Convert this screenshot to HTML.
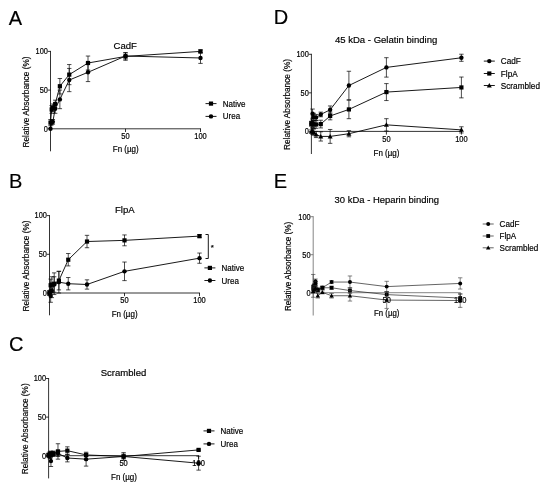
<!DOCTYPE html>
<html><head><meta charset="utf-8"><title>Figure</title>
<style>
html,body{margin:0;padding:0;background:#fff}
svg{display:block}
text{font-family:"Liberation Sans", sans-serif;fill:#000;stroke:#000;stroke-width:0.18}
.ln{stroke:#000;stroke-width:0.9;fill:none}
.eb{stroke:#000;stroke-width:0.7;fill:none}
.ln2{stroke:#222;stroke-width:0.7;fill:none}
.eb2{stroke:#333;stroke-width:0.6;fill:none}
</style></head><body>
<svg width="550" height="488" viewBox="0 0 550 488">
<rect width="550" height="488" fill="#fff"/>
<text transform="translate(8.80 24.70) scale(1 1.04)" font-size="20">A</text>
<path d="M50.50 50.90V151.30M50.50 128.80H201.00" stroke="#000" stroke-width="0.8" fill="none"/>
<path d="M47.90 128.80H50.50" stroke="#000" stroke-width="0.8"/>
<text transform="translate(47.90 131.65) scale(1 1.18)" font-size="7.4" text-anchor="end">0</text>
<path d="M47.90 90.10H50.50" stroke="#000" stroke-width="0.8"/>
<text transform="translate(47.90 92.95) scale(1 1.18)" font-size="7.4" text-anchor="end">50</text>
<path d="M47.90 51.40H50.50" stroke="#000" stroke-width="0.8"/>
<text transform="translate(47.90 54.25) scale(1 1.18)" font-size="7.4" text-anchor="end">100</text>
<path d="M125.50 128.80V132.00" stroke="#000" stroke-width="0.8"/>
<text transform="translate(125.50 139.45) scale(1 1.18)" font-size="7.5" text-anchor="middle">50</text>
<path d="M200.50 128.80V132.00" stroke="#000" stroke-width="0.8"/>
<text transform="translate(200.50 139.45) scale(1 1.18)" font-size="7.5" text-anchor="middle">100</text>
<path d="M50.50 119.51V125.70M48.30 119.51h4.4M48.30 125.70h4.4" class="eb"/>
<path d="M51.67 105.58V113.32M49.47 105.58h4.4M49.47 113.32h4.4" class="eb"/>
<path d="M52.84 104.03V111.77M50.64 104.03h4.4M50.64 111.77h4.4" class="eb"/>
<path d="M55.19 100.16V107.90M52.99 100.16h4.4M52.99 107.90h4.4" class="eb"/>
<path d="M59.88 78.49V93.97M57.67 78.49h4.4M57.67 93.97h4.4" class="eb"/>
<path d="M69.25 64.56V84.68M67.05 64.56h4.4M67.05 84.68h4.4" class="eb"/>
<path d="M88.00 56.04V69.98M85.80 56.04h4.4M85.80 69.98h4.4" class="eb"/>
<path d="M125.50 52.56V60.30M123.30 52.56h4.4M123.30 60.30h4.4" class="eb"/>
<path d="M200.50 49.85V52.95M198.30 49.85h4.4M198.30 52.95h4.4" class="eb"/>
<path d="M50.50 122.61L51.67 109.45L52.84 107.90L55.19 104.03L59.88 86.23L69.25 74.62L88.00 63.01L125.50 56.43L200.50 51.40" class="ln"/>
<rect x="48.40" y="120.51" width="4.2" height="4.2"/>
<rect x="49.57" y="107.35" width="4.2" height="4.2"/>
<rect x="50.74" y="105.80" width="4.2" height="4.2"/>
<rect x="53.09" y="101.93" width="4.2" height="4.2"/>
<rect x="57.77" y="84.13" width="4.2" height="4.2"/>
<rect x="67.15" y="72.52" width="4.2" height="4.2"/>
<rect x="85.90" y="60.91" width="4.2" height="4.2"/>
<rect x="123.40" y="54.33" width="4.2" height="4.2"/>
<rect x="198.40" y="49.30" width="4.2" height="4.2"/>
<path d="M51.67 120.29V124.93M49.47 120.29h4.4M49.47 124.93h4.4" class="eb"/>
<path d="M52.84 119.51V124.16M50.64 119.51h4.4M50.64 124.16h4.4" class="eb"/>
<path d="M55.19 104.03V113.32M52.99 104.03h4.4M52.99 113.32h4.4" class="eb"/>
<path d="M59.88 90.10V108.68M57.67 90.10h4.4M57.67 108.68h4.4" class="eb"/>
<path d="M69.25 68.43V91.65M67.05 68.43h4.4M67.05 91.65h4.4" class="eb"/>
<path d="M88.00 63.01V81.59M85.80 63.01h4.4M85.80 81.59h4.4" class="eb"/>
<path d="M125.50 52.95V59.14M123.30 52.95h4.4M123.30 59.14h4.4" class="eb"/>
<path d="M200.50 52.56V63.40M198.30 52.56h4.4M198.30 63.40h4.4" class="eb"/>
<path d="M50.50 128.80L51.67 122.61L52.84 121.83L55.19 108.68L59.88 99.39L69.25 80.04L88.00 72.30L125.50 56.04L200.50 57.98" class="ln"/>
<circle cx="50.50" cy="128.80" r="2.20"/>
<circle cx="51.67" cy="122.61" r="2.20"/>
<circle cx="52.84" cy="121.83" r="2.20"/>
<circle cx="55.19" cy="108.68" r="2.20"/>
<circle cx="59.88" cy="99.39" r="2.20"/>
<circle cx="69.25" cy="80.04" r="2.20"/>
<circle cx="88.00" cy="72.30" r="2.20"/>
<circle cx="125.50" cy="56.04" r="2.20"/>
<circle cx="200.50" cy="57.98" r="2.20"/>
<text transform="translate(125.20 48.75) scale(1 1.04)" font-size="9.55" text-anchor="middle">CadF</text>
<text transform="translate(125.70 152.20) scale(1 1.04)" font-size="8.0" text-anchor="middle">Fn (µg)</text>
<text transform="translate(29.30 102.00) rotate(-90) scale(1 1.04)" font-size="8.28" text-anchor="middle">Relative Absorbance (%)</text>
<path d="M205.50 103.60H216.50" class="ln"/>
<rect x="208.90" y="101.50" width="4.2" height="4.2"/>
<text transform="translate(222.80 106.60) scale(1 1.04)" font-size="8.0">Native</text>
<path d="M205.50 116.40H216.50" class="ln"/>
<circle cx="211.00" cy="116.40" r="2.20"/>
<text transform="translate(222.80 119.40) scale(1 1.04)" font-size="8.0">Urea</text>

<text transform="translate(9.00 188.00) scale(1 1.04)" font-size="20">B</text>
<path d="M49.50 215.10V315.30M49.50 293.00H200.00" stroke="#000" stroke-width="0.8" fill="none"/>
<path d="M46.90 293.00H49.50" stroke="#000" stroke-width="0.8"/>
<text transform="translate(46.90 295.85) scale(1 1.18)" font-size="7.4" text-anchor="end">0</text>
<path d="M46.90 254.30H49.50" stroke="#000" stroke-width="0.8"/>
<text transform="translate(46.90 257.15) scale(1 1.18)" font-size="7.4" text-anchor="end">50</text>
<path d="M46.90 215.60H49.50" stroke="#000" stroke-width="0.8"/>
<text transform="translate(46.90 218.45) scale(1 1.18)" font-size="7.4" text-anchor="end">100</text>
<path d="M124.50 293.00V296.20" stroke="#000" stroke-width="0.8"/>
<text transform="translate(124.50 303.45) scale(1 1.18)" font-size="7.5" text-anchor="middle">50</text>
<path d="M199.50 293.00V296.20" stroke="#000" stroke-width="0.8"/>
<text transform="translate(199.50 303.45) scale(1 1.18)" font-size="7.5" text-anchor="middle">100</text>
<path d="M49.50 290.68V295.32M47.30 290.68h4.4M47.30 295.32h4.4" class="eb"/>
<path d="M50.67 279.07V291.45M48.47 279.07h4.4M48.47 291.45h4.4" class="eb"/>
<path d="M51.84 276.75V292.23M49.64 276.75h4.4M49.64 292.23h4.4" class="eb"/>
<path d="M54.19 272.88V294.55M51.99 272.88h4.4M51.99 294.55h4.4" class="eb"/>
<path d="M58.88 271.33V289.90M56.67 271.33h4.4M56.67 289.90h4.4" class="eb"/>
<path d="M68.25 253.53V265.91M66.05 253.53h4.4M66.05 265.91h4.4" class="eb"/>
<path d="M87.00 235.34V247.72M84.80 235.34h4.4M84.80 247.72h4.4" class="eb"/>
<path d="M124.50 234.95V245.79M122.30 234.95h4.4M122.30 245.79h4.4" class="eb"/>
<path d="M199.50 234.56V237.66M197.30 234.56h4.4M197.30 237.66h4.4" class="eb"/>
<path d="M49.50 293.00L50.67 285.26L51.84 284.49L54.19 283.71L58.88 280.62L68.25 259.72L87.00 241.53L124.50 240.37L199.50 236.11" class="ln"/>
<rect x="47.40" y="290.90" width="4.2" height="4.2"/>
<rect x="48.57" y="283.16" width="4.2" height="4.2"/>
<rect x="49.74" y="282.39" width="4.2" height="4.2"/>
<rect x="52.09" y="281.61" width="4.2" height="4.2"/>
<rect x="56.77" y="278.52" width="4.2" height="4.2"/>
<rect x="66.15" y="257.62" width="4.2" height="4.2"/>
<rect x="84.90" y="239.43" width="4.2" height="4.2"/>
<rect x="122.40" y="238.27" width="4.2" height="4.2"/>
<rect x="197.40" y="234.01" width="4.2" height="4.2"/>
<path d="M49.50 290.68V295.32M47.30 290.68h4.4M47.30 295.32h4.4" class="eb"/>
<path d="M50.67 289.90V302.29M48.47 289.90h4.4M48.47 302.29h4.4" class="eb"/>
<path d="M51.84 283.71V297.64M49.64 283.71h4.4M49.64 297.64h4.4" class="eb"/>
<path d="M54.19 276.75V292.23M51.99 276.75h4.4M51.99 292.23h4.4" class="eb"/>
<path d="M58.88 271.33V293.00M56.67 271.33h4.4M56.67 293.00h4.4" class="eb"/>
<path d="M68.25 277.52V289.90M66.05 277.52h4.4M66.05 289.90h4.4" class="eb"/>
<path d="M87.00 279.84V289.13M84.80 279.84h4.4M84.80 289.13h4.4" class="eb"/>
<path d="M124.50 262.04V280.62M122.30 262.04h4.4M122.30 280.62h4.4" class="eb"/>
<path d="M199.50 253.06V263.28M197.30 253.06h4.4M197.30 263.28h4.4" class="eb"/>
<path d="M49.50 293.00L50.67 296.10L51.84 290.68L54.19 284.49L58.88 282.16L68.25 283.71L87.00 284.49L124.50 271.33L199.50 258.17" class="ln"/>
<circle cx="49.50" cy="293.00" r="2.20"/>
<circle cx="50.67" cy="296.10" r="2.20"/>
<circle cx="51.84" cy="290.68" r="2.20"/>
<circle cx="54.19" cy="284.49" r="2.20"/>
<circle cx="58.88" cy="282.16" r="2.20"/>
<circle cx="68.25" cy="283.71" r="2.20"/>
<circle cx="87.00" cy="284.49" r="2.20"/>
<circle cx="124.50" cy="271.33" r="2.20"/>
<circle cx="199.50" cy="258.17" r="2.20"/>
<text transform="translate(124.80 213.35) scale(1 1.04)" font-size="9.55" text-anchor="middle">FlpA</text>
<text transform="translate(124.60 317.20) scale(1 1.04)" font-size="8.0" text-anchor="middle">Fn (µg)</text>
<text transform="translate(29.30 266.00) rotate(-90) scale(1 1.04)" font-size="8.28" text-anchor="middle">Relative Absorbance (%)</text>
<path d="M204.40 267.90H215.40" class="ln"/>
<rect x="207.80" y="265.80" width="4.2" height="4.2"/>
<text transform="translate(221.60 270.90) scale(1 1.04)" font-size="8.0">Native</text>
<path d="M204.40 280.50H215.40" class="ln"/>
<circle cx="209.90" cy="280.50" r="2.20"/>
<text transform="translate(221.60 283.50) scale(1 1.04)" font-size="8.0">Urea</text>
<path d="M205.5 234.5H208.3V258.5H205.5" class="ln"/><text x="212.4" y="249.5" font-size="8" text-anchor="middle">*</text>
<text transform="translate(9.00 350.80) scale(1 1.04)" font-size="20">C</text>
<path d="M48.60 378.00V478.40M48.60 455.70H199.10" stroke="#000" stroke-width="0.8" fill="none"/>
<path d="M46.00 455.70H48.60" stroke="#000" stroke-width="0.8"/>
<text transform="translate(46.00 458.55) scale(1 1.18)" font-size="7.4" text-anchor="end">0</text>
<path d="M46.00 417.10H48.60" stroke="#000" stroke-width="0.8"/>
<text transform="translate(46.00 419.95) scale(1 1.18)" font-size="7.4" text-anchor="end">50</text>
<path d="M46.00 378.50H48.60" stroke="#000" stroke-width="0.8"/>
<text transform="translate(46.00 381.35) scale(1 1.18)" font-size="7.4" text-anchor="end">100</text>
<path d="M123.60 455.70V458.90" stroke="#000" stroke-width="0.8"/>
<text transform="translate(123.60 466.25) scale(1 1.18)" font-size="7.5" text-anchor="middle">50</text>
<path d="M198.60 455.70V458.90" stroke="#000" stroke-width="0.8"/>
<text transform="translate(198.60 466.25) scale(1 1.18)" font-size="7.5" text-anchor="middle">100</text>
<path d="M48.60 453.38V456.47M46.40 453.38h4.4M46.40 456.47h4.4" class="eb"/>
<path d="M49.77 451.84V456.47M47.57 451.84h4.4M47.57 456.47h4.4" class="eb"/>
<path d="M50.94 451.07V455.70M48.74 451.07h4.4M48.74 455.70h4.4" class="eb"/>
<path d="M53.29 451.07V455.70M51.09 451.07h4.4M51.09 455.70h4.4" class="eb"/>
<path d="M57.98 443.73V459.17M55.77 443.73h4.4M55.77 459.17h4.4" class="eb"/>
<path d="M67.35 446.82V454.54M65.15 446.82h4.4M65.15 454.54h4.4" class="eb"/>
<path d="M86.10 453.38V456.47M83.90 453.38h4.4M83.90 456.47h4.4" class="eb"/>
<path d="M123.60 452.61V460.33M121.40 452.61h4.4M121.40 460.33h4.4" class="eb"/>
<path d="M198.60 449.14V450.68M196.40 449.14h4.4M196.40 450.68h4.4" class="eb"/>
<path d="M48.60 454.93L49.77 454.16L50.94 453.38L53.29 453.38L57.98 451.45L67.35 450.68L86.10 454.93L123.60 456.47L198.60 449.91" class="ln"/>
<rect x="46.50" y="452.83" width="4.2" height="4.2"/>
<rect x="47.67" y="452.06" width="4.2" height="4.2"/>
<rect x="48.84" y="451.28" width="4.2" height="4.2"/>
<rect x="51.19" y="451.28" width="4.2" height="4.2"/>
<rect x="55.88" y="449.35" width="4.2" height="4.2"/>
<rect x="65.25" y="448.58" width="4.2" height="4.2"/>
<rect x="84.00" y="452.83" width="4.2" height="4.2"/>
<rect x="121.50" y="454.37" width="4.2" height="4.2"/>
<rect x="196.50" y="447.81" width="4.2" height="4.2"/>
<path d="M48.60 454.16V457.24M46.40 454.16h4.4M46.40 457.24h4.4" class="eb"/>
<path d="M49.77 454.16V458.79M47.57 454.16h4.4M47.57 458.79h4.4" class="eb"/>
<path d="M50.94 455.70V466.51M48.74 455.70h4.4M48.74 466.51h4.4" class="eb"/>
<path d="M53.29 451.84V456.47M51.09 451.84h4.4M51.09 456.47h4.4" class="eb"/>
<path d="M57.98 450.30V456.47M55.77 450.30h4.4M55.77 456.47h4.4" class="eb"/>
<path d="M67.35 454.16V461.88M65.15 454.16h4.4M65.15 461.88h4.4" class="eb"/>
<path d="M86.10 452.23V466.12M83.90 452.23h4.4M83.90 466.12h4.4" class="eb"/>
<path d="M123.60 454.16V458.79M121.40 454.16h4.4M121.40 458.79h4.4" class="eb"/>
<path d="M198.60 456.24V470.14M196.40 456.24h4.4M196.40 470.14h4.4" class="eb"/>
<path d="M48.60 455.70L49.77 456.47L50.94 461.10L53.29 454.16L57.98 453.38L67.35 458.02L86.10 459.17L123.60 456.47L198.60 463.19" class="ln"/>
<circle cx="48.60" cy="455.70" r="2.20"/>
<circle cx="49.77" cy="456.47" r="2.20"/>
<circle cx="50.94" cy="461.10" r="2.20"/>
<circle cx="53.29" cy="454.16" r="2.20"/>
<circle cx="57.98" cy="453.38" r="2.20"/>
<circle cx="67.35" cy="458.02" r="2.20"/>
<circle cx="86.10" cy="459.17" r="2.20"/>
<circle cx="123.60" cy="456.47" r="2.20"/>
<circle cx="198.60" cy="463.19" r="2.20"/>
<text transform="translate(123.50 376.05) scale(1 1.04)" font-size="9.55" text-anchor="middle">Scrambled</text>
<text transform="translate(124.00 479.90) scale(1 1.04)" font-size="8.0" text-anchor="middle">Fn (µg)</text>
<text transform="translate(28.30 428.80) rotate(-90) scale(1 1.04)" font-size="8.28" text-anchor="middle">Relative Absorbance (%)</text>
<path d="M203.50 430.90H214.50" class="ln"/>
<rect x="206.90" y="428.80" width="4.2" height="4.2"/>
<text transform="translate(220.60 433.90) scale(1 1.04)" font-size="8.0">Native</text>
<path d="M203.50 443.90H214.50" class="ln"/>
<circle cx="209.00" cy="443.90" r="2.20"/>
<text transform="translate(220.60 446.90) scale(1 1.04)" font-size="8.0">Urea</text>

<text transform="translate(273.80 24.40) scale(1 1.04)" font-size="20">D</text>
<path d="M311.40 53.80V154.00M311.40 131.40H461.90" stroke="#000" stroke-width="0.8" fill="none"/>
<path d="M308.80 131.40H311.40" stroke="#000" stroke-width="0.8"/>
<text transform="translate(308.80 134.25) scale(1 1.18)" font-size="7.4" text-anchor="end">0</text>
<path d="M308.80 92.85H311.40" stroke="#000" stroke-width="0.8"/>
<text transform="translate(308.80 95.70) scale(1 1.18)" font-size="7.4" text-anchor="end">50</text>
<path d="M308.80 54.30H311.40" stroke="#000" stroke-width="0.8"/>
<text transform="translate(308.80 57.15) scale(1 1.18)" font-size="7.4" text-anchor="end">100</text>
<path d="M386.40 131.40V134.60" stroke="#000" stroke-width="0.8"/>
<text transform="translate(386.40 141.95) scale(1 1.18)" font-size="7.5" text-anchor="middle">50</text>
<path d="M461.40 131.40V134.60" stroke="#000" stroke-width="0.8"/>
<text transform="translate(461.40 141.95) scale(1 1.18)" font-size="7.5" text-anchor="middle">100</text>
<path d="M311.40 121.38V126.00M309.20 121.38h4.4M309.20 126.00h4.4" class="eb"/>
<path d="M312.57 109.04V118.29M310.37 109.04h4.4M310.37 118.29h4.4" class="eb"/>
<path d="M313.74 113.28V120.99M311.54 113.28h4.4M311.54 120.99h4.4" class="eb"/>
<path d="M316.09 114.44V120.61M313.89 114.44h4.4M313.89 120.61h4.4" class="eb"/>
<path d="M320.77 112.12V116.75M318.57 112.12h4.4M318.57 116.75h4.4" class="eb"/>
<path d="M330.15 105.96V113.67M327.95 105.96h4.4M327.95 113.67h4.4" class="eb"/>
<path d="M348.90 71.26V99.79M346.70 71.26h4.4M346.70 99.79h4.4" class="eb"/>
<path d="M386.40 57.69V77.12M384.20 57.69h4.4M384.20 77.12h4.4" class="eb"/>
<path d="M461.40 54.22V61.32M459.20 54.22h4.4M459.20 61.32h4.4" class="eb"/>
<path d="M311.40 123.69L312.57 113.67L313.74 117.14L316.09 117.52L320.77 114.44L330.15 109.81L348.90 85.53L386.40 67.41L461.40 57.77" class="ln"/>
<circle cx="311.40" cy="123.69" r="2.20"/>
<circle cx="312.57" cy="113.67" r="2.20"/>
<circle cx="313.74" cy="117.14" r="2.20"/>
<circle cx="316.09" cy="117.52" r="2.20"/>
<circle cx="320.77" cy="114.44" r="2.20"/>
<circle cx="330.15" cy="109.81" r="2.20"/>
<circle cx="348.90" cy="85.53" r="2.20"/>
<circle cx="386.40" cy="67.41" r="2.20"/>
<circle cx="461.40" cy="57.77" r="2.20"/>
<path d="M311.40 121.38V126.00M309.20 121.38h4.4M309.20 126.00h4.4" class="eb"/>
<path d="M312.57 119.84V127.55M310.37 119.84h4.4M310.37 127.55h4.4" class="eb"/>
<path d="M313.74 120.61V128.32M311.54 120.61h4.4M311.54 128.32h4.4" class="eb"/>
<path d="M316.09 120.61V128.32M313.89 120.61h4.4M313.89 128.32h4.4" class="eb"/>
<path d="M320.77 120.22V127.93M318.57 120.22h4.4M318.57 127.93h4.4" class="eb"/>
<path d="M330.15 112.12V119.84M327.95 112.12h4.4M327.95 119.84h4.4" class="eb"/>
<path d="M348.90 100.17V118.68M346.70 100.17h4.4M346.70 118.68h4.4" class="eb"/>
<path d="M386.40 83.60V100.56M384.20 83.60h4.4M384.20 100.56h4.4" class="eb"/>
<path d="M461.40 77.04V97.86M459.20 77.04h4.4M459.20 97.86h4.4" class="eb"/>
<path d="M311.40 123.69L312.57 123.69L313.74 124.46L316.09 124.46L320.77 124.08L330.15 115.98L348.90 109.43L386.40 92.08L461.40 87.45" class="ln"/>
<rect x="309.30" y="121.59" width="4.2" height="4.2"/>
<rect x="310.47" y="121.59" width="4.2" height="4.2"/>
<rect x="311.64" y="122.36" width="4.2" height="4.2"/>
<rect x="313.99" y="122.36" width="4.2" height="4.2"/>
<rect x="318.67" y="121.98" width="4.2" height="4.2"/>
<rect x="328.05" y="113.88" width="4.2" height="4.2"/>
<rect x="346.80" y="107.33" width="4.2" height="4.2"/>
<rect x="384.30" y="89.98" width="4.2" height="4.2"/>
<rect x="459.30" y="85.35" width="4.2" height="4.2"/>
<path d="M311.40 129.86V132.94M309.20 129.86h4.4M309.20 132.94h4.4" class="eb"/>
<path d="M312.57 128.32V134.48M310.37 128.32h4.4M310.37 134.48h4.4" class="eb"/>
<path d="M313.74 129.09V135.25M311.54 129.09h4.4M311.54 135.25h4.4" class="eb"/>
<path d="M316.09 131.40V137.57M313.89 131.40h4.4M313.89 137.57h4.4" class="eb"/>
<path d="M320.77 131.79V141.04M318.57 131.79h4.4M318.57 141.04h4.4" class="eb"/>
<path d="M330.15 129.47V143.35M327.95 129.47h4.4M327.95 143.35h4.4" class="eb"/>
<path d="M348.90 130.63V136.80M346.70 130.63h4.4M346.70 136.80h4.4" class="eb"/>
<path d="M386.40 118.68V131.01M384.20 118.68h4.4M384.20 131.01h4.4" class="eb"/>
<path d="M461.40 126.77V132.94M459.20 126.77h4.4M459.20 132.94h4.4" class="eb"/>
<path d="M311.40 131.40L312.57 131.40L313.74 132.17L316.09 134.48L320.77 136.41L330.15 136.41L348.90 133.71L386.40 124.85L461.40 129.86" class="ln"/>
<path d="M311.40 128.90L313.90 133.40H308.90Z"/>
<path d="M312.57 128.90L315.07 133.40H310.07Z"/>
<path d="M313.74 129.67L316.24 134.17H311.24Z"/>
<path d="M316.09 131.98L318.59 136.48H313.59Z"/>
<path d="M320.77 133.91L323.27 138.41H318.27Z"/>
<path d="M330.15 133.91L332.65 138.41H327.65Z"/>
<path d="M348.90 131.21L351.40 135.71H346.40Z"/>
<path d="M386.40 122.35L388.90 126.85H383.90Z"/>
<path d="M461.40 127.36L463.90 131.86H458.90Z"/>
<text transform="translate(386.10 42.50) scale(1 1.04)" font-size="9.55" text-anchor="middle">45 kDa - Gelatin binding</text>
<text transform="translate(386.50 155.60) scale(1 1.04)" font-size="8.0" text-anchor="middle">Fn (µg)</text>
<text transform="translate(290.40 104.40) rotate(-90) scale(1 1.04)" font-size="8.28" text-anchor="middle">Relative Absorbance (%)</text>
<path d="M483.80 61.10H494.80" class="ln"/>
<circle cx="489.30" cy="61.10" r="2.20"/>
<text transform="translate(500.80 64.10) scale(1 1.04)" font-size="8.2">CadF</text>
<path d="M483.80 73.50H494.80" class="ln"/>
<rect x="487.20" y="71.40" width="4.2" height="4.2"/>
<text transform="translate(500.80 76.50) scale(1 1.04)" font-size="8.2">FlpA</text>
<path d="M483.80 85.50H494.80" class="ln"/>
<path d="M489.30 83.00L491.80 87.50H486.80Z"/>
<text transform="translate(500.80 88.50) scale(1 1.04)" font-size="8.2">Scrambled</text>

<text transform="translate(273.80 188.00) scale(1 1.04)" font-size="20">E</text>
<path d="M313.20 216.20V315.50M313.20 292.70H460.70" stroke="#666" stroke-width="0.8" fill="none"/>
<path d="M310.60 292.70H313.20" stroke="#666" stroke-width="0.8"/>
<text transform="translate(310.60 295.55) scale(1 1.18)" font-size="7.4" text-anchor="end">0</text>
<path d="M310.60 254.70H313.20" stroke="#666" stroke-width="0.8"/>
<text transform="translate(310.60 257.55) scale(1 1.18)" font-size="7.4" text-anchor="end">50</text>
<path d="M310.60 216.70H313.20" stroke="#666" stroke-width="0.8"/>
<text transform="translate(310.60 219.55) scale(1 1.18)" font-size="7.4" text-anchor="end">100</text>
<path d="M386.70 292.70V295.90" stroke="#666" stroke-width="0.8"/>
<text transform="translate(386.70 302.55) scale(1 1.18)" font-size="7.5" text-anchor="middle">50</text>
<path d="M460.20 292.70V295.90" stroke="#666" stroke-width="0.8"/>
<text transform="translate(460.20 302.55) scale(1 1.18)" font-size="7.5" text-anchor="middle">100</text>
<path d="M313.20 274.46V297.26M311.00 274.46h4.4M311.00 297.26h4.4" class="eb2"/>
<path d="M314.35 283.58V289.66M312.15 283.58h4.4M312.15 289.66h4.4" class="eb2"/>
<path d="M315.49 279.02V283.58M313.29 279.02h4.4M313.29 283.58h4.4" class="eb2"/>
<path d="M317.79 287.38V291.94M315.59 287.38h4.4M315.59 291.94h4.4" class="eb2"/>
<path d="M322.39 286.24V289.28M320.19 286.24h4.4M320.19 289.28h4.4" class="eb2"/>
<path d="M331.57 280.54V283.58M329.38 280.54h4.4M329.38 283.58h4.4" class="eb2"/>
<path d="M349.95 275.98V288.14M347.75 275.98h4.4M347.75 288.14h4.4" class="eb2"/>
<path d="M386.70 281.30V291.94M384.50 281.30h4.4M384.50 291.94h4.4" class="eb2"/>
<path d="M460.20 277.80V289.05M458.00 277.80h4.4M458.00 289.05h4.4" class="eb2"/>
<path d="M313.20 285.86L314.35 286.62L315.49 281.30L317.79 289.66L322.39 287.76L331.57 282.06L349.95 282.06L386.70 286.62L460.20 283.43" class="ln2"/>
<circle cx="313.20" cy="285.86" r="1.98"/>
<circle cx="314.35" cy="286.62" r="1.98"/>
<circle cx="315.49" cy="281.30" r="1.98"/>
<circle cx="317.79" cy="289.66" r="1.98"/>
<circle cx="322.39" cy="287.76" r="1.98"/>
<circle cx="331.57" cy="282.06" r="1.98"/>
<circle cx="349.95" cy="282.06" r="1.98"/>
<circle cx="386.70" cy="286.62" r="1.98"/>
<circle cx="460.20" cy="283.43" r="1.98"/>
<path d="M313.20 286.62V291.18M311.00 286.62h4.4M311.00 291.18h4.4" class="eb2"/>
<path d="M314.35 285.86V290.42M312.15 285.86h4.4M312.15 290.42h4.4" class="eb2"/>
<path d="M315.49 281.30V285.86M313.29 281.30h4.4M313.29 285.86h4.4" class="eb2"/>
<path d="M317.79 288.52V291.56M315.59 288.52h4.4M315.59 291.56h4.4" class="eb2"/>
<path d="M322.39 286.24V289.28M320.19 286.24h4.4M320.19 289.28h4.4" class="eb2"/>
<path d="M331.57 286.24V289.28M329.38 286.24h4.4M329.38 289.28h4.4" class="eb2"/>
<path d="M349.95 287.53V293.61M347.75 287.53h4.4M347.75 293.61h4.4" class="eb2"/>
<path d="M386.70 291.56V297.64M384.50 291.56h4.4M384.50 297.64h4.4" class="eb2"/>
<path d="M460.20 294.22V301.82M458.00 294.22h4.4M458.00 301.82h4.4" class="eb2"/>
<path d="M313.20 288.90L314.35 288.14L315.49 283.58L317.79 290.04L322.39 287.76L331.57 287.76L349.95 290.57L386.70 294.60L460.20 298.02" class="ln2"/>
<rect x="311.31" y="287.01" width="3.7800000000000002" height="3.7800000000000002"/>
<rect x="312.46" y="286.25" width="3.7800000000000002" height="3.7800000000000002"/>
<rect x="313.60" y="281.69" width="3.7800000000000002" height="3.7800000000000002"/>
<rect x="315.90" y="288.15" width="3.7800000000000002" height="3.7800000000000002"/>
<rect x="320.50" y="285.87" width="3.7800000000000002" height="3.7800000000000002"/>
<rect x="329.69" y="285.87" width="3.7800000000000002" height="3.7800000000000002"/>
<rect x="348.06" y="288.68" width="3.7800000000000002" height="3.7800000000000002"/>
<rect x="384.81" y="292.71" width="3.7800000000000002" height="3.7800000000000002"/>
<rect x="458.31" y="296.13" width="3.7800000000000002" height="3.7800000000000002"/>
<path d="M313.20 288.90V293.46M311.00 288.90h4.4M311.00 293.46h4.4" class="eb2"/>
<path d="M314.35 287.38V291.94M312.15 287.38h4.4M312.15 291.94h4.4" class="eb2"/>
<path d="M315.49 285.86V290.42M313.29 285.86h4.4M313.29 290.42h4.4" class="eb2"/>
<path d="M317.79 293.46V298.02M315.59 293.46h4.4M315.59 298.02h4.4" class="eb2"/>
<path d="M322.39 290.80V293.84M320.19 290.80h4.4M320.19 293.84h4.4" class="eb2"/>
<path d="M331.57 293.46V298.02M329.38 293.46h4.4M329.38 298.02h4.4" class="eb2"/>
<path d="M349.95 290.42V301.06M347.75 290.42h4.4M347.75 301.06h4.4" class="eb2"/>
<path d="M386.70 291.71V308.43M384.50 291.71h4.4M384.50 308.43h4.4" class="eb2"/>
<path d="M460.20 293.69V307.37M458.00 293.69h4.4M458.00 307.37h4.4" class="eb2"/>
<path d="M313.20 291.18L314.35 289.66L315.49 288.14L317.79 295.74L322.39 292.32L331.57 295.74L349.95 295.74L386.70 300.07L460.20 300.53" class="ln2"/>
<path d="M313.20 288.93L315.45 292.98H310.95Z"/>
<path d="M314.35 287.41L316.60 291.46H312.10Z"/>
<path d="M315.49 285.89L317.74 289.94H313.24Z"/>
<path d="M317.79 293.49L320.04 297.54H315.54Z"/>
<path d="M322.39 290.07L324.64 294.12H320.14Z"/>
<path d="M331.57 293.49L333.82 297.54H329.32Z"/>
<path d="M349.95 293.49L352.20 297.54H347.70Z"/>
<path d="M386.70 297.82L388.95 301.87H384.45Z"/>
<path d="M460.20 298.28L462.45 302.33H457.95Z"/>
<text transform="translate(386.80 203.35) scale(1 1.04)" font-size="9.45" text-anchor="middle">30 kDa - Heparin binding</text>
<text transform="translate(386.70 315.80) scale(1 1.04)" font-size="7.84" text-anchor="middle">Fn (µg)</text>
<text transform="translate(290.70 266.50) rotate(-90) scale(1 1.04)" font-size="8.11" text-anchor="middle">Relative Absorbance (%)</text>
<path d="M482.70 224.00H493.70" class="ln2"/>
<circle cx="488.20" cy="224.00" r="1.98"/>
<text transform="translate(499.60 227.00) scale(1 1.04)" font-size="8.1">CadF</text>
<path d="M482.70 236.00H493.70" class="ln2"/>
<rect x="486.31" y="234.11" width="3.7800000000000002" height="3.7800000000000002"/>
<text transform="translate(499.60 239.00) scale(1 1.04)" font-size="8.1">FlpA</text>
<path d="M482.70 247.80H493.70" class="ln2"/>
<path d="M488.20 245.55L490.45 249.60H485.95Z"/>
<text transform="translate(499.60 250.80) scale(1 1.04)" font-size="8.1">Scrambled</text>

</svg>
</body></html>
